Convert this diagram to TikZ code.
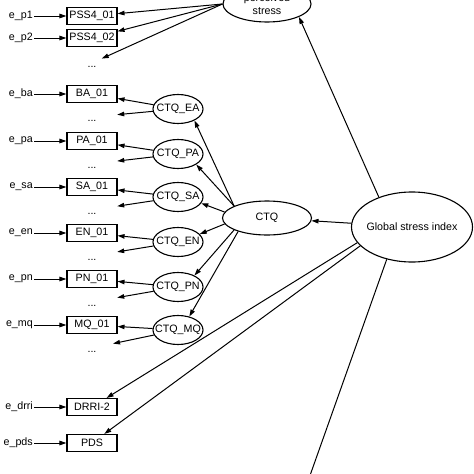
\documentclass[tikz,border=0pt]{standalone}
\usepackage{fontspec}
\setmainfont{Liberation Sans}
\usetikzlibrary{arrows.meta,shapes.geometric}
\begin{document}
\begin{tikzpicture}[x=1pt,y=1pt,
	every node/.style={font=\fontsize{10.7}{13}\selectfont},
	obs/.style={draw,line width=1.1pt,minimum width=50pt,minimum height=17pt,inner sep=0pt},
	lat/.style={draw,ellipse,line width=1.1pt,inner xsep=-6pt,inner ysep=0pt},
	err/.style={anchor=east,inner sep=1pt},
	more/.style={minimum width=50pt,text height=8.4pt,text depth=0pt,inner sep=0pt},
	path/.style={-{Triangle[length=7pt,width=4.5pt]},line width=1pt}]
			\useasboundingbox (0,0) rectangle (474,-474);
			\node [lat,minimum width=88pt,minimum height=36pt,align=center] (stress) at (267,-4) {perceived\\stress};
			\node [lat,minimum width=121pt,minimum height=70pt] (gsi) at (412,-227) {Global stress index};
			\node [lat,minimum width=89pt,minimum height=34pt] (ctq) at (267,-218) {CTQ};
			\node [lat,minimum width=50pt,minimum height=29pt] (ea) at (178,-109) {CTQ\_EA};
			\node [lat,minimum width=50pt,minimum height=29pt] (pa) at (178,-154) {CTQ\_PA};
			\node [lat,minimum width=50pt,minimum height=29pt] (sa) at (178,-197) {CTQ\_SA};
			\node [lat,minimum width=50pt,minimum height=29pt] (en) at (178,-242) {CTQ\_EN};
			\node [lat,minimum width=50pt,minimum height=29pt] (pn) at (178,-287) {CTQ\_PN};
			\node [lat,minimum width=50pt,minimum height=29pt] (mq) at (178,-330) {CTQ\_MQ};
			\coordinate (beyond) at (280,-560);
			\node [obs] (pss1) at (92,-16) {PSS4\_01};
			\node [obs] (pss2) at (92,-38) {PSS4\_02};
			\node [more] (pssm) at (92,-63) {...};
			\node [obs] (ba) at (92,-94) {BA\_01};
			\node [more] (bam) at (92,-117) {...};
			\node [obs] (pa1) at (92,-141) {PA\_01};
			\node [more] (pam) at (92,-164) {...};
			\node [obs] (sa1) at (92,-187) {SA\_01};
			\node [more] (sam) at (92,-210) {...};
			\node [obs] (en1) at (92,-233) {EN\_01};
			\node [more] (enm) at (92,-256) {...};
			\node [obs] (pn1) at (92,-279) {PN\_01};
			\node [more] (pnm) at (92,-302) {...};
			\node [obs] (mq1) at (92,-325) {MQ\_01};
			\node [more] (mqm) at (92,-348) {...};
			\node [obs] (drri) at (92,-407) {DRRI-2};
			\node [obs] (pds) at (92,-443) {PDS};
			\node [err] (ep1) at (34,-16) {e\_p1};
			\node [err] (ep2) at (34,-38) {e\_p2};
			\node [err] (eba) at (34,-94) {e\_ba};
			\node [err] (epa) at (34,-141) {e\_pa};
			\node [err] (esa) at (34,-187) {e\_sa};
			\node [err] (een) at (34,-233) {e\_en};
			\node [err] (epn) at (34,-279) {e\_pn};
			\node [err] (emq) at (34,-325) {e\_mq};
			\node [err] (edrri) at (34,-407) {e\_drri};
			\node [err] (epds) at (34,-443) {e\_pds};
			\draw [path] (ep1) -- (pss1);
			\draw [path] (ep2) -- (pss2);
			\draw [path] (eba) -- (ba);
			\draw [path] (epa) -- (pa1);
			\draw [path] (esa) -- (sa1);
			\draw [path] (een) -- (en1);
			\draw [path] (epn) -- (pn1);
			\draw [path] (emq) -- (mq1);
			\draw [path] (edrri) -- (drri);
			\draw [path] (epds) -- (pds);
			\draw [path] (stress.west) -- (pss1);
			\draw [path] (stress.west) -- (pss2);
			\draw [path] (stress.west) -- (pssm);
			\draw [path] (ea) -- (ba);
			\draw [path] (ea) -- (bam);
			\draw [path] (pa) -- (pa1);
			\draw [path] (pa) -- (pam);
			\draw [path] (sa) -- (sa1);
			\draw [path] (sa) -- (sam);
			\draw [path] (en) -- (en1);
			\draw [path] (en) -- (enm);
			\draw [path] (pn) -- (pn1);
			\draw [path] (pn) -- (pnm);
			\draw [path] (mq) -- (mq1);
			\draw [path] (mq) -- (mqm);
			\draw [path] (ctq.160) -- (ea.325);
			\draw [path] (ctq.160) -- (pa.330);
			\draw [path] (ctq.172) -- (sa.345);
			\draw [path] (ctq.188) -- (en.20);
			\draw [path] (ctq.200) -- (pn.35);
			\draw [path] (ctq.205) -- (mq.50);
			\draw [path] (gsi) -- (ctq);
			\draw [path] (gsi.138) -- (stress.338);
			\draw [path] (gsi.196) -- (drri);
			\draw [path] (gsi.200) -- (pds);
			\draw [path] (gsi.232) -- (beyond);
\end{tikzpicture}
\end{document}
